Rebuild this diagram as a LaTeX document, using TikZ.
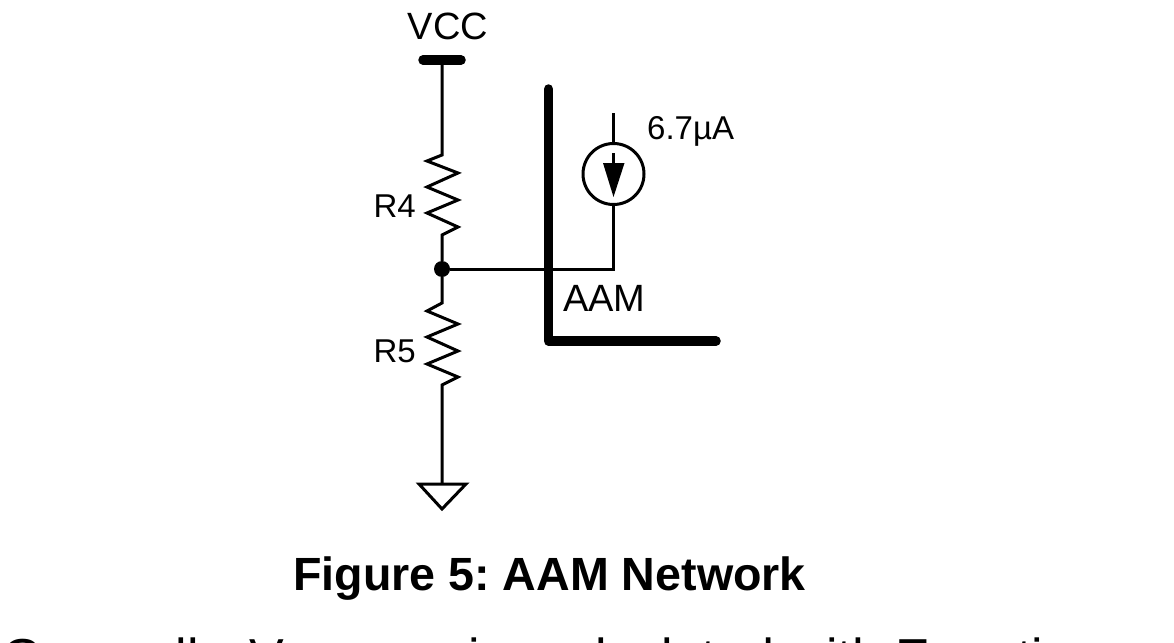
\documentclass[tikz,border=0pt]{standalone}
\usepackage{fontspec}
\setmainfont{Liberation Sans}
\frenchspacing
\tikzset{
  wire/.style={line width=3pt,line join=miter},
  bus/.style={line width=9.5pt,line cap=round,line join=round},
  lbl/.style={inner sep=0pt,font=\fontsize{38}{44}\selectfont},
  slbl/.style={inner sep=0pt,font=\fontsize{33}{38}\selectfont},
  dotn/.style={circle,fill=black,inner sep=0pt,minimum size=16pt},
  bodytxt/.style={inner sep=0pt,anchor=base west,font=\fontsize{52}{58}\selectfont}
}
\begin{document}
\begin{tikzpicture}[x=1pt,y=-1pt]
\useasboundingbox (0,0) rectangle (1174,642);
\clip (0,0) rectangle (1174,642);
\coordinate (vccL) at (423,60);
\coordinate (vccR) at (461,60);
\coordinate (vccT) at (442,60);
\coordinate (r4a) at (442,155);
\coordinate (r4b) at (442,235);
\node[dotn] (j) at (442,269) {};
\coordinate (r5a) at (442,303);
\coordinate (r5b) at (442,385);
\coordinate (gt) at (442,484);
\coordinate (gb) at (442,509);
\coordinate (gl) at (419,484);
\coordinate (gr) at (466,484);
\coordinate (busT) at (548.5,89);
\coordinate (busC) at (548.5,341);
\coordinate (busR) at (716,341);
\node[circle,draw,line width=3pt,minimum size=61pt,inner sep=0pt] (src) at (613.5,174) {};
\coordinate (srcT) at (613.5,113);
\coordinate (corner) at (613.5,269);
\coordinate (stemT) at (613.5,153);
\coordinate (stemB) at (613.5,165);
\coordinate (arrL) at (603,163);
\coordinate (arrR) at (624.5,163);
\coordinate (arrB) at (613.5,197);
\node[lbl,anchor=base] (vcc) at (448,40) {VCC};
\node[slbl,anchor=base east] (r4) at (416,217) {R4};
\node[slbl,anchor=base east] (r5) at (416,362) {R5};
\node[slbl,anchor=base west] (cur) at (647,139) {6.7µA};
\node[lbl,anchor=base west] (aam) at (563,311) {AAM};
\node[inner sep=0pt,anchor=base,font=\bfseries\fontsize{46.6}{52}\selectfont] (cap) at (549.5,590) {Figure 5: AAM Network};
\node[bodytxt] (gen) at (2,675) {Generally, V};
\node[bodytxt] (calc) at (468.5,675) {is\hspace{19.5pt} calculated with Equation};
\draw[bus] (vccL) -- (vccR);
\draw[bus] (busT) -- (busC) -- (busR);
\draw[wire] (vccT) -- (r4a) -- (427,161) -- (458,173) -- (427,187) -- (458,200) -- (427,213) -- (458,227) -- (r4b) -- (j);
\draw[wire] (j) -- (r5a) -- (427,311) -- (458,324) -- (427,337) -- (458,351) -- (427,364) -- (458,377) -- (r5b) -- (gt);
\draw[wire] (gl) -- (gr) -- (gb) -- cycle;
\draw[wire] (j) -- (corner) -- (src.south);
\draw[wire] (srcT) -- (src.north);
\draw[wire] (stemT) -- (stemB);
\fill (arrL) -- (arrR) -- (arrB) -- cycle;
\end{tikzpicture}
\end{document}
